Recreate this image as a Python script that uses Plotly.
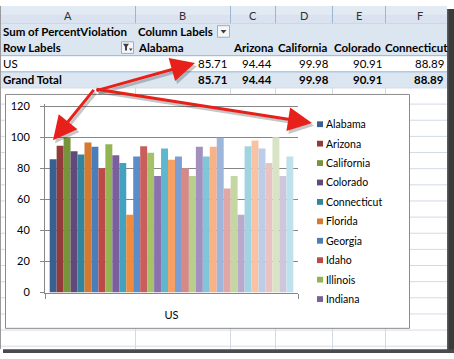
import plotly.graph_objects as go

W, H = 454, 359

# ---------------- data ----------------
states = ["Alabama", "Arizona", "California", "Colorado", "Connecticut", "Florida",
          "Georgia", "Idaho", "Illinois", "Indiana", "Iowa", "Kansas",
          "Kentucky", "Louisiana", "Maine", "Maryland", "Massachusetts", "Michigan",
          "Minnesota", "Mississippi", "Missouri", "Montana", "Nebraska", "Nevada",
          "New Hampshire", "New Jersey", "New Mexico", "New York", "North Carolina", "Ohio",
          "Oklahoma", "Oregon", "Pennsylvania", "South Carolina", "Tennessee"]
percent_violation = [85.71, 94.44, 99.98, 90.91, 88.89, 96.5,
                     93.8, 80.0, 95.5, 88.4, 83.4, 50.0,
                     87.6, 94.2, 89.9, 75.0, 92.7, 85.5,
                     87.6, 80.0, 75.0, 93.8, 87.6, 93.8,
                     99.6, 66.9, 75.0, 50.0, 94.2, 97.9,
                     92.7, 83.4, 100.0, 75.0, 87.6]
series_colors = ["#3A6091", "#943B39", "#77933C", "#5F4A7B", "#31859C", "#D47A30",
                 "#4A7EBB", "#BC4B48", "#93B452", "#7A5F9C", "#43A3BE", "#EE8B3C",
                 "#5D8CCB", "#C95F5C", "#A4C26A", "#8C72AC", "#5CB7CF", "#F6A063",
                 "#7C9FD3", "#D58A88", "#B7CE8C", "#A390BF", "#7FC6DA", "#F8B286",
                 "#9FB6DC", "#E0A7A6", "#C4D6A2", "#B9AACD", "#A0D4E3", "#F9C3A3",
                 "#BDCDE7", "#E9C3C2", "#D8E4C5", "#CFC6DE", "#BFE1EB"]
row_label = "US"
column_letters = ["A", "B", "C", "D", "E", "F"]
y_tick_values = [0, 20, 40, 60, 80, 100, 120]
legend_count = 10

FONT = "Lato, 'Open Sans', sans-serif"
TS = 11.5  # table font size


def fx(x):
    return x / W


def fy(y):
    return 1 - y / H


fig = go.Figure()
for name, val, col in zip(states, percent_violation, series_colors):
    fig.add_trace(go.Bar(x=[row_label], y=[val], name=name,
                         marker=dict(color=col, line=dict(width=0)),
                         showlegend=False))

shapes = []
anns = []


def rect(x0, y0, x1, y1, fill="rgba(0,0,0,0)", line=None, lw=1, layer="below"):
    shapes.append(dict(type="rect", xref="paper", yref="paper",
                       x0=fx(x0), x1=fx(x1), y0=fy(y1), y1=fy(y0),
                       fillcolor=fill,
                       line=dict(color=line if line else "rgba(0,0,0,0)", width=lw if line else 0),
                       layer=layer))


def seg(x0, y0, x1, y1, color, lw=1, layer="below"):
    shapes.append(dict(type="line", xref="paper", yref="paper",
                       x0=fx(x0), x1=fx(x1), y0=fy(y0), y1=fy(y1),
                       line=dict(color=color, width=lw), layer=layer))


def path(points, fill, layer="below"):
    d = "M " + " L ".join(f"{fx(a):.5f},{fy(b):.5f}" for a, b in points) + " Z"
    shapes.append(dict(type="path", xref="paper", yref="paper", path=d,
                       fillcolor=fill, line=dict(width=0), layer=layer))


def text(x, y, s, anchor="left", bold=False, size=TS, color="#000000"):
    anns.append(dict(x=fx(x), y=fy(y), xref="paper", yref="paper", text=(f"<b>{s}</b>" if bold else s),
                     showarrow=False, xanchor=anchor, yanchor="middle",
                     font=dict(family=FONT, size=size, color=color), borderpad=0))


# ---------------- spreadsheet background ----------------
col_edges = [0, 135, 230, 275, 332, 385, 456]
row_h = 16.7
hdr_b = 18
rows_top = [hdr_b + row_h * k for k in range(25)]

# header row
rect(0, 0, 447, hdr_b, fill="#E2EAF4")
rect(0, hdr_b * 0.5, 447, hdr_b, fill="#D9E2EE")
for i, letter in enumerate(column_letters):
    text((col_edges[i] + min(col_edges[i + 1], 455)) / 2, 9.5, letter, anchor="center", size=11, color="#303030")
for e in col_edges[1:-1]:
    seg(e + 0.5, 0, e + 0.5, hdr_b, "#9EB6CE")
seg(0, hdr_b + 0.5, 447, hdr_b + 0.5, "#9EB6CE")

# pivot table fills
rect(0, rows_top[0], 447, rows_top[2], fill="#DCE6F1")
rect(0, rows_top[3], 447, rows_top[4], fill="#DCE6F1")
seg(0, rows_top[2], 447, rows_top[2], "#95B3D7")
seg(0, rows_top[3], 447, rows_top[3], "#95B3D7")

# grid below the table
for k in range(4, 21):
    y = rows_top[k]
    if y < 356:
        seg(0, y, 447, y, "#D4DAE5")
for e in col_edges[1:-1]:
    seg(e + 0.5, rows_top[4], e + 0.5, 355, "#D4DAE5")

# pivot texts
r1 = (rows_top[0] + rows_top[1]) / 2
r2 = (rows_top[1] + rows_top[2]) / 2
r3 = (rows_top[2] + rows_top[3]) / 2
r4 = (rows_top[3] + rows_top[4]) / 2
text(2, r1, "Sum of PercentViolation", bold=True)
text(137, r1, "Column Labels", bold=True)
text(2, r2, "Row Labels", bold=True)
text(2, r3, row_label)
text(2, r4, "Grand Total", bold=True)

# dropdown button
rect(217.5, r1 - 6, 229.5, r1 + 6, fill="#F4F6F9", line="#A5ACB5")
path([(220.5, r1 - 1.5), (226.5, r1 - 1.5), (223.5, r1 + 2)], "#404040")
# filter button
rect(121.5, r2 - 6, 133.5, r2 + 6, fill="#F4F6F9", line="#A5ACB5")
path([(123, r2 - 4), (129, r2 - 4), (127, r2 - 1), (127, r2 + 3), (125, r2 + 3), (125, r2 - 1)], "#404040")
path([(129, r2 + 1), (132.5, r2 + 1), (130.75, r2 + 3.5)], "#404040")

head_x = [137, 232, 277, 333, 384]
val_right = [228, 273, 330, 383, 445]
for i in range(5):
    text(head_x[i], r2, states[i], bold=True)
    text(val_right[i], r3, f"{percent_violation[i]:.2f}", anchor="right")
    text(val_right[i], r4, f"{percent_violation[i]:.2f}", anchor="right", bold=True)

# screenshot frame / drop shadow
rect(447, 3, 454, 359, fill="#5A5A5A", layer="above")
rect(448.5, 3, 454, 359, fill="#3A3A3A", layer="above")
rect(3, 355, 454, 359, fill="#4A4A4A", layer="above")
seg(0.5, 0, 0.5, 355, "#9A9A9A")

# chart area
rect(5.5, 91.5, 409.5, 333.5, fill="#FFFFFF", line="#8C8C8C")

# manual legend (first entries as in the reference)
for i in range(legend_count):
    yc = 122.3 + 20.1 * i
    rect(317, yc - 3, 323, yc + 3, fill=series_colors[i])
    text(325, yc, states[i], size=10.5)

# red arrows (with soft shadow)
tail = (95, 87)
tips = [(195, 59), (53, 139), (312, 121)]
for dx, dy, colr in [(2, 3, "rgba(0,0,0,0.22)"), (0, 0, "#E8201A")]:
    for tx, ty in tips:
        anns.append(dict(x=fx(tx + dx), y=fy(ty + dy), xref="paper", yref="paper",
                         ax=(tail[0] + dx) - (tx + dx), ay=(tail[1] + dy) - (ty + dy),
                         axref="pixel", ayref="pixel", text="", showarrow=True,
                         arrowhead=2, arrowsize=1.6, arrowwidth=3, arrowcolor=colr,
                         standoff=0, startstandoff=0))

y0_px, y120_px = 296.5, 103.5
y_top_val = 121.0
y_top_px = y0_px - (y0_px - y120_px) * y_top_val / 120
fig.update_layout(
    width=W, height=H,
    margin=dict(l=0, r=0, t=0, b=0),
    paper_bgcolor="#FFFFFF",
    plot_bgcolor="rgba(0,0,0,0)",
    barmode="group", bargap=0.037, bargroupgap=0,
    showlegend=False,
    font=dict(family=FONT, size=11, color="#000000"),
    xaxis=dict(domain=[fx(45), fx(298)], type="category",
               showline=True, linecolor="#868686", linewidth=1,
               ticks="outside", tickson="boundaries", ticklen=5, tickcolor="#868686",
               showgrid=False, tickfont=dict(family=FONT, size=11, color="#000000"),
               ticklabelstandoff=12, fixedrange=True),
    yaxis=dict(domain=[fy(y0_px), fy(y_top_px)], range=[0, y_top_val],
               tickvals=y_tick_values, showline=True, linecolor="#868686", linewidth=1,
               ticks="outside", ticklen=4, tickcolor="#868686",
               showgrid=True, gridcolor="#868686", gridwidth=1, zeroline=False,
               tickfont=dict(family=FONT, size=11, color="#000000"),
               ticklabelstandoff=8, fixedrange=True),
    shapes=shapes,
    annotations=anns,
)

fig.write_html("out.html",
               config={"displayModeBar": False, "staticPlot": True},
               post_script="document.body.style.margin='0';document.body.style.overflow='hidden';")
